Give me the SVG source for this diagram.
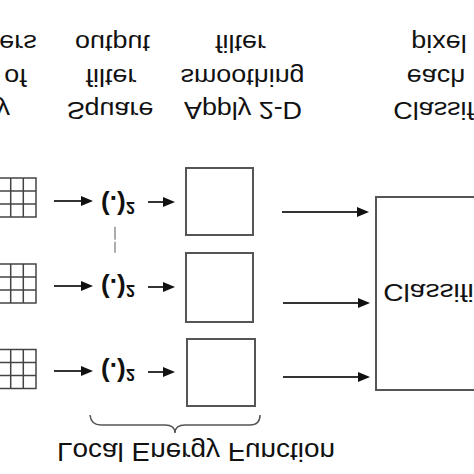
<svg xmlns="http://www.w3.org/2000/svg" width="474" height="474" viewBox="0 0 474 474">
<style>
.t{font-family:"Liberation Sans",Arial,sans-serif;font-size:23px;fill:#111}
.p{font-family:"Liberation Sans",Arial,sans-serif;font-size:26px;font-weight:bold;fill:#111}
.s{font-family:"Liberation Sans",Arial,sans-serif;font-size:16px;font-weight:bold;fill:#111}
.bx{fill:#fff;stroke:#555;stroke-width:2}
.gr{fill:none;stroke:#444;stroke-width:1.5}
.a{stroke:#333;stroke-width:2;fill:none;marker-end:url(#ah)}
.br{fill:none;stroke:#555;stroke-width:1.5}
</style>
<defs>
<marker id="ah" markerUnits="userSpaceOnUse" markerWidth="13" markerHeight="11" refX="1" refY="5" orient="auto"><path d="M0,0 L12,5 L0,10 z" fill="#111"/></marker>
</defs>
<rect width="474" height="474" fill="#fff"/>
<g id="labels">
<text class="t" text-anchor="end" transform="matrix(1.17,0,0,-1,36.7,35)">ers</text>
<text class="t" text-anchor="end" transform="matrix(1.17,0,0,-1,26.7,68.5)">of</text>
<text class="t" text-anchor="end" transform="matrix(1.17,0,0,-1,10,102)">y</text>
<text class="t" text-anchor="middle" transform="matrix(1.17,0,0,-1,112.5,35)">output</text>
<text class="t" text-anchor="middle" transform="matrix(1.17,0,0,-1,111,68.5)">filter</text>
<text class="t" text-anchor="middle" transform="matrix(1.17,0,0,-1,110,102)">Square</text>
<text class="t" text-anchor="middle" transform="matrix(1.17,0,0,-1,240.5,35)">filter</text>
<text class="t" text-anchor="middle" transform="matrix(1.17,0,0,-1,242.5,68.5)">smoothing</text>
<text class="t" text-anchor="middle" transform="matrix(1.17,0,0,-1,243,102)">Apply 2-D</text>
<text class="t" text-anchor="middle" transform="matrix(1.17,0,0,-1,439,35)">pixel</text>
<text class="t" text-anchor="middle" transform="matrix(1.17,0,0,-1,436,69)">each</text>
<text class="t" transform="matrix(1.17,0,0,-1,393.3,102)">Classify</text>
</g>
<g id="input1"><rect class="gr" x="-2" y="178" width="38" height="39"/><path class="gr" d="M10.7,178V217M23.3,178V217M-2,191H36M-2,204H36"/></g>
<g id="input2"><rect class="gr" x="-2" y="264" width="38" height="39"/><path class="gr" d="M10.7,264V303M23.3,264V303M-2,277H36M-2,290H36"/></g>
<g id="input3"><rect class="gr" x="-2" y="349.5" width="38" height="39"/><path class="gr" d="M10.7,349.5V388.5M23.3,349.5V388.5M-2,362.5H36M-2,375.5H36"/></g>
<g id="square1"><text class="p" transform="matrix(1,0,0,-1,101,195.5)">(.)</text><text class="s" transform="matrix(1,0,0,-1,126,201.7)">2</text></g>
<g id="square2"><text class="p" transform="matrix(1,0,0,-1,101,279)">(.)</text><text class="s" transform="matrix(1,0,0,-1,126,285.2)">2</text></g>
<g id="square3"><text class="p" transform="matrix(1,0,0,-1,101,362.5)">(.)</text><text class="s" transform="matrix(1,0,0,-1,126,368.7)">2</text></g>
<g id="smooth1"><rect class="bx" x="186" y="168" width="67" height="67"/></g>
<g id="smooth2"><rect class="bx" x="186" y="253" width="67" height="69"/></g>
<g id="smooth3"><rect class="bx" x="187" y="339" width="68" height="67"/></g>
<g id="classifier"><rect class="bx" x="376" y="197" width="110" height="193"/><text class="t" style="font-size:24px" transform="matrix(1.17,0,0,-1,383.3,284)">Classifier</text></g>
<g id="brace"><path class="br" d="M90,415 Q91,425 101,425 L165,425 Q175,425 175,433 Q175,425 185,425 L250,425 Q260,425 260,415"/>
<text class="t" style="font-size:26px" text-anchor="middle" transform="matrix(1.075,0,0,-1,196,443)">Local Energy Function</text></g>
<g id="connectors">
<line x1="115" y1="226.7" x2="115" y2="252.7" stroke="#777" stroke-width="1.2" stroke-dasharray="13,2"/>
<line class="a" x1="54" y1="201" x2="82" y2="201"/>
<line class="a" x1="148" y1="202" x2="164" y2="202"/>
<line class="a" x1="282" y1="212" x2="358" y2="212"/>
<line class="a" x1="54" y1="286" x2="82" y2="286"/>
<line class="a" x1="148" y1="287" x2="164" y2="287"/>
<line class="a" x1="283" y1="303" x2="359" y2="303"/>
<line class="a" x1="54" y1="371" x2="82" y2="371"/>
<line class="a" x1="148" y1="372" x2="164" y2="372"/>
<line class="a" x1="283" y1="377" x2="359" y2="377"/>
</g>
</svg>
